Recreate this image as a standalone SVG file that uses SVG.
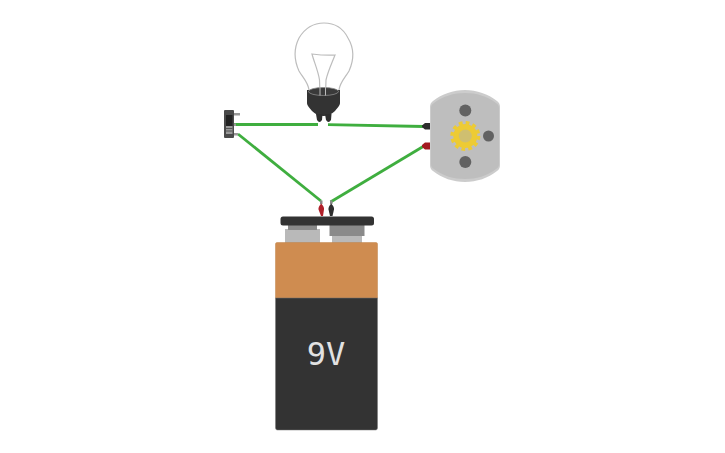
<svg xmlns="http://www.w3.org/2000/svg" width="725" height="453" viewBox="0 0 725 453">
<style>
.wire{fill:none;stroke:#3FAE3F;stroke-width:2.800}
.pin{fill:#999}
.hole{fill:#626262}
.cap{fill:#B9B9B9}
.shade{fill:#8A8A8A}
.glass{fill:none;stroke:#BDBDBD;stroke-width:1.200}
</style>
<rect width="725" height="453" fill="#fff"/>
<g id="connectors">
<path class="wire" d="M234 124.500H318"/>
<path class="wire" d="M328 124.700L424 126.500"/>
<path class="wire" d="M238 134L321 201"/>
<path class="wire" d="M330.500 202L424 146"/>
</g>
<g id="bulb">
<path class="glass" d="M309 90C308 82 303 78 299 71C294 60 294 48 299 38C305 28 314 23 324 23C334 23 343 28 348 38C354 48 354 60 349 71C345 78 340 82 339 90"/>
<path class="glass" d="M320 95L319.500 80C318 70 314 62 312 54C320 55 328 55.500 335 55C332 63 328 71 326 80L325.500 95"/>
<path d="M307 90H340V103C340 106 337 108 335 111C332 114 328 116 323.500 116C319 116 315 114 312 111C310 108 307 106 307 103Z" fill="#333"/>
<ellipse cx="323.500" cy="91.500" rx="15" ry="4" fill="#3A3A3A" stroke="#8A8A8A" stroke-width=".8"/>
<path d="M320 87V95.500M325.500 87V95.500" stroke="#BBB" stroke-width="1"/>
<path d="M316 114H322.500L322 120Q319.500 124 317 120ZM325 114H331.500L331 120Q328.500 124 326 120Z" fill="#2E2E2E"/>
</g>
<g id="switch">
<rect class="pin" x="233" y="113" width="7" height="2.500"/>
<rect class="pin" x="233" y="123.500" width="3" height="2.500"/>
<rect class="pin" x="233" y="133" width="5" height="2.500"/>
<rect x="224" y="110" width="10" height="28" rx="1" fill="#4A4A4A"/>
<rect x="226" y="115" width="6.500" height="11" fill="#222"/>
<rect x="226" y="126" width="6.500" height="8" fill="#999"/>
<path d="M226 128.500H232.500M226 131H232.500" stroke="#555" stroke-width="1"/>
</g>
<g id="motor">
<path d="M425 123H430V129.500H425L422 127V125.500Z" fill="#2E2E2E"/>
<path d="M425 142.500H430V149.500H425L422 147V145Z" fill="#A31A20"/>
<path d="M430 107Q430 103 433 101C442 94 453 90 465 90C477 90 488 94 497 101Q500 103 500 107V165Q500 169 497 171C488 178 477 182 465 182C453 182 442 178 433 171Q430 169 430 165Z" fill="#CCCCCC"/>
<path d="M431 108Q431 104.500 434 103C443 96 454 93 465 93C476 93 487 96 496 103Q499 104.500 499 108V164Q499 167.500 496 169C487 176 476 179 465 179C454 179 443 176 434 169Q431 167.500 431 164Z" fill="#BEBEBE"/>
<circle class="hole" cx="465.300" cy="110.500" r="6"/>
<circle class="hole" cx="465.300" cy="162" r="6"/>
<circle class="hole" cx="488.500" cy="136" r="5.500"/>
<circle cx="465.300" cy="136" r="12" fill="#EDCB34"/>
<circle cx="465.300" cy="136" r="13" fill="none" stroke="#EDCB34" stroke-width="4" stroke-dasharray="3.700 3.107"/>
<circle cx="465.300" cy="136" r="6.500" fill="#CFBF70"/>
</g>
<g id="battery">
<rect class="cap" x="285" y="229" width="35" height="14"/>
<rect class="shade" x="288" y="225" width="29" height="5"/>
<rect class="cap" x="332" y="235" width="30" height="8"/>
<rect class="shade" x="329.500" y="225" width="35" height="11"/>
<rect x="280.500" y="216.500" width="93.500" height="9" rx="2.500" fill="#333"/>
<path d="M277 242.500H376Q377.500 242.500 377.500 244V298H275.500V244Q275.500 242.500 277 242.500Z" fill="#CF8C50" stroke="#BE8249" stroke-width=".5"/>
<path d="M275.500 298H377.500V428Q377.500 430 375.500 430H277.500Q275.500 430 275.500 428Z" fill="#333" stroke="#777" stroke-width=".5"/>
<text x="326" y="365" font-family="'DejaVu Sans Mono',monospace" font-size="32" fill="#E2E2E2" text-anchor="middle">9V</text>
<rect x="320" y="200.500" width="2.500" height="3.500" fill="#888"/>
<rect x="330" y="200.500" width="2.500" height="3.500" fill="#888"/>
<path d="M321.200 203.500Q324.500 207 324 209.500L323 216H321L318.500 209.500Q318 207 321.200 203.500Z" fill="#B0202A"/>
<path d="M331.200 203.500Q334.500 207 334 209.500L332.500 216H330L328.500 209.500Q328 207 331.200 203.500Z" fill="#2E2E2E"/>
</g>
</svg>
